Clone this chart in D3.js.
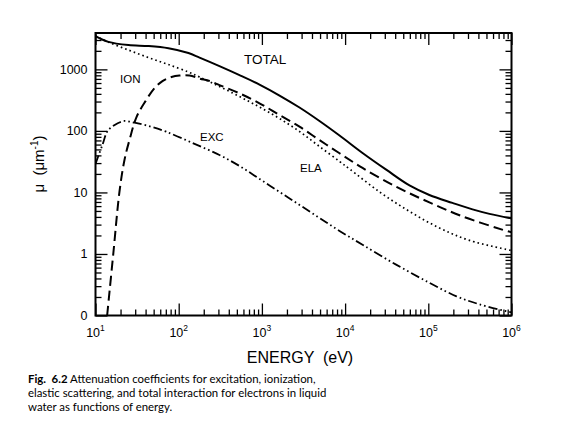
<!DOCTYPE html>
<html>
<head>
<meta charset="utf-8">
<script src="https://cdn.jsdelivr.net/npm/d3@7"></script>
<style>
  body { margin: 0; background: #fff; }
  svg { display: block; }
  text { white-space: pre; }
  .tick line { stroke: #000; stroke-width: 1.3px; }
</style>
</head>
<body>
<div id="chart"></div>
<script>
// energy (eV) vs attenuation coefficient (um^-1)
const total = [
  [10, 3475], [14.3, 2800], [24.9, 2480], [43.3, 2390], [75.3, 2200],
  [131, 1840], [178, 1556], [309, 1132], [538, 808], [935, 566],
  [1629, 376], [2830, 240], [4920, 145], [8570, 84.2], [16200, 43.8],
  [31500, 23.2], [59400, 13.0], [103000, 9.1], [195000, 6.76],
  [340000, 5.3], [544000, 4.48], [1e6, 3.78]
];
const elastic = [
  [10, 3475], [14.3, 2775], [24.9, 2060], [43.3, 1556], [75.3, 1197],
  [131, 904], [178, 750], [309, 526], [538, 362], [935, 244],
  [1629, 159], [2830, 97.8], [4920, 55.8], [8570, 31.9], [11300, 24.1],
  [25900, 10.2], [59400, 4.92], [136000, 2.65], [313000, 1.66],
  [1e6, 1.14]
];
const ionization = [
  [13.8, 0.1], [16.4, 1.04], [19.4, 10.2], [22.3, 33.7], [25.6, 71],
  [31.1, 168], [39.9, 305], [51.2, 497], [63.8, 646], [81.8, 750],
  [102, 793], [135, 793], [178, 709], [235, 646], [309, 556],
  [538, 408], [935, 281], [1629, 181], [2830, 117], [4920, 71],
  [8570, 43.3], [16200, 25.0], [41500, 12.3], [103000, 6.89],
  [258000, 4.08], [871000, 2.37], [1e6, 2.26]
];
const excitation = [
  [10, 29], [12.1, 59], [14.1, 101], [18.5, 133], [22.3, 145],
  [29.4, 136], [46.7, 117], [70.8, 97], [147, 63.6], [309, 40.6],
  [538, 26.9], [935, 16.6], [1629, 10.2], [2830, 6.27], [4920, 3.85],
  [8570, 2.37], [16200, 1.41], [41500, 0.665], [103000, 0.34],
  [218000, 0.205], [412000, 0.152], [871000, 0.117], [1e6, 0.113]
];

const xMajor = [10, 100, 1000, 10000, 100000, 1000000];
const xExponents = ["1", "2", "3", "4", "5", "6"];
const yMajor = [0.1, 1, 10, 100, 1000];
const yLabels = ["0", "1", "10", "100", "1000"];

const curveLabels = [
  { text: "TOTAL", x: 244, y: 64, size: 13.5 },
  { text: "ION", x: 120, y: 83, size: 11.5 },
  { text: "EXC", x: 200, y: 141, size: 11.5 },
  { text: "ELA", x: 300, y: 172, size: 11.5 }
];

const caption = [
  [["Fig.  6.2", true], [" Attenuation coefficients for excitation, ionization,", false]],
  [["elastic scattering, and total interaction for electrons in liquid", false]],
  [["water as functions of energy.", false]]
];

const W = 580, H = 424;
const plotLeft = 95.5, plotRight = 511.5, plotTop = 33, plotBottom = 315.5;

const svg = d3.select("#chart")
    .append("svg")
    .attr("width", W)
    .attr("height", H)
    .style("font-family", "'Liberation Sans', Arial, sans-serif");

svg.append("rect").attr("width", W).attr("height", H).attr("fill", "#fff");

const x = d3.scaleLog().domain([10, 1e6]).range([plotLeft, plotRight]);
const y = d3.scaleLog().domain([0.1, 3900]).range([plotBottom, plotTop]);

const xMinor = x.ticks().filter(v => !xMajor.includes(v));
const yMinor = y.ticks().filter(v => !yMajor.some(m => Math.abs(m - v) < 1e-9));

// inward ticks on all four sides
function ticks(axis, values, size, transform) {
    svg.append("g")
        .attr("transform", transform)
        .call(axis.tickValues(values).tickSize(-size).tickFormat(""))
        .call(g => g.select(".domain").remove());
}
ticks(d3.axisBottom(x), xMinor, 6, `translate(0,${plotBottom})`);
ticks(d3.axisBottom(x), xMajor, 12, `translate(0,${plotBottom})`);
ticks(d3.axisTop(x), xMinor, 6, `translate(0,${plotTop})`);
ticks(d3.axisTop(x), xMajor, 12, `translate(0,${plotTop})`);
ticks(d3.axisLeft(y), yMinor, 6, `translate(${plotLeft},0)`);
ticks(d3.axisLeft(y), yMajor, 12, `translate(${plotLeft},0)`);
ticks(d3.axisRight(y), yMinor, 6, `translate(${plotRight},0)`);
ticks(d3.axisRight(y), yMajor, 12, `translate(${plotRight},0)`);

svg.append("defs").append("clipPath").attr("id", "plot")
    .append("rect")
    .attr("x", plotLeft).attr("y", plotTop)
    .attr("width", plotRight - plotLeft).attr("height", plotBottom - plotTop);

const line = d3.line()
    .x(d => x(d[0]))
    .y(d => y(d[1]))
    .curve(d3.curveCatmullRom.alpha(0.5));

const series = [
    { data: total, dash: null, width: 2 },
    { data: elastic, dash: "1.6,3", width: 1.7 },
    { data: ionization, dash: "10,5", width: 2 },
    { data: excitation, dash: "9,3,1.6,3,1.6,3", width: 1.8 }
];

svg.append("g")
    .attr("clip-path", "url(#plot)")
    .selectAll("path")
    .data(series)
    .join("path")
    .attr("d", d => line(d.data))
    .attr("fill", "none")
    .attr("stroke", "#000")
    .attr("stroke-width", d => d.width)
    .attr("stroke-dasharray", d => d.dash);

// frame
svg.append("rect")
    .attr("x", plotLeft).attr("y", plotTop)
    .attr("width", plotRight - plotLeft).attr("height", plotBottom - plotTop)
    .attr("fill", "none")
    .attr("stroke", "#000")
    .attr("stroke-width", 2);

// x tick labels as 10 with superscript
const xl = svg.append("g").selectAll("text")
    .data(xMajor)
    .join("text")
    .attr("x", d => x(d))
    .attr("y", 337)
    .attr("text-anchor", "middle")
    .attr("font-size", 12.5);
xl.append("tspan").text("10");
xl.append("tspan")
    .attr("dy", -6)
    .attr("font-size", 8.5)
    .text((d, i) => xExponents[i]);

svg.append("g").selectAll("text")
    .data(yMajor)
    .join("text")
    .attr("x", plotLeft - 8)
    .attr("y", d => y(d))
    .attr("dy", "0.36em")
    .attr("text-anchor", "end")
    .attr("font-size", 12.5)
    .text((d, i) => yLabels[i]);

svg.append("text")
    .attr("x", 300)
    .attr("y", 363)
    .attr("text-anchor", "middle")
    .attr("font-size", 16)
    .text("ENERGY  (eV)");

const yt = svg.append("text")
    .attr("transform", "translate(44,164) rotate(-90)")
    .attr("text-anchor", "middle")
    .attr("font-size", 15);
yt.append("tspan").text("μ  (μm");
yt.append("tspan").attr("dy", -6).attr("font-size", 10).text("-1");
yt.append("tspan").attr("dy", 6).text(")");

svg.append("g").selectAll("text")
    .data(curveLabels)
    .join("text")
    .attr("x", d => d.x)
    .attr("y", d => d.y)
    .attr("font-size", d => d.size)
    .text(d => d.text);

const cap = svg.append("g")
    .style("font-family", "Lato, 'Open Sans', sans-serif")
    .selectAll("text")
    .data(caption)
    .join("text")
    .attr("x", 28)
    .attr("y", (d, i) => 383 + i * 14)
    .attr("font-size", 11.4);
cap.selectAll("tspan")
    .data(d => d)
    .join("tspan")
    .attr("font-weight", d => d[1] ? "bold" : null)
    .text(d => d[0]);
</script>
</body>
</html>
